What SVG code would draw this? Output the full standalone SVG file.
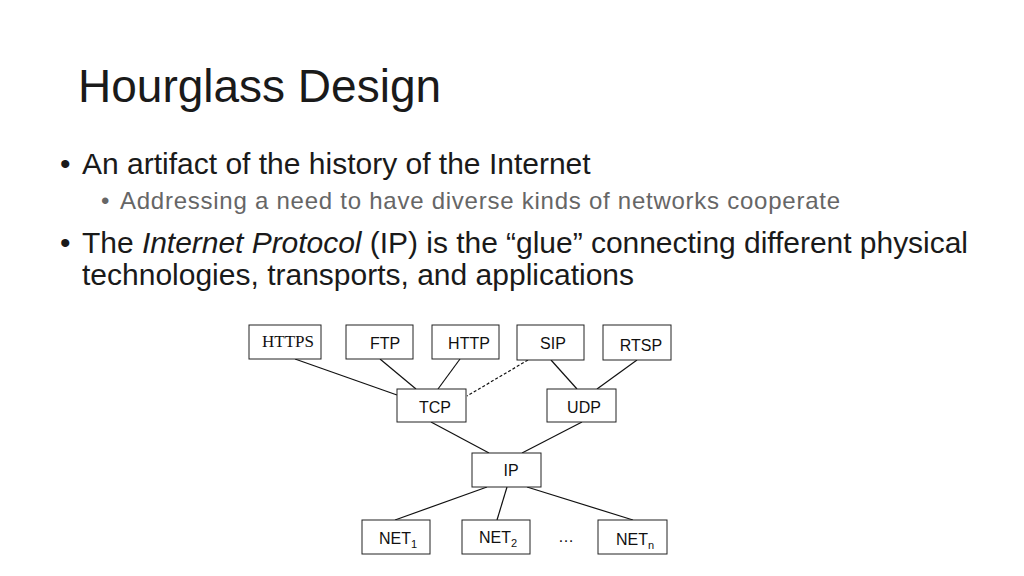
<svg xmlns="http://www.w3.org/2000/svg" width="1024" height="576" viewBox="0 0 1024 576">
<style>
.t{font-family:"Liberation Sans",Arial,sans-serif;fill:#1a1a1a}
.b{fill:#fff;stroke:#222;stroke-width:1}
.l{font-family:"Liberation Sans",Arial,sans-serif;font-size:16px;fill:#111;text-anchor:middle}
.c line{stroke:#111;stroke-width:1.2}
</style>
<rect width="1024" height="576" fill="#fff"/>
<text class="t" x="78" y="102" font-size="46">Hourglass Design</text>
<text class="t" x="60" y="174" font-size="30">•</text>
<text class="t" x="82" y="174" font-size="30">An artifact of the history of the Internet</text>
<text class="t" x="101" y="209" font-size="24" style="fill:#666">•</text>
<text class="t" x="120" y="209" font-size="24" style="fill:#666" textLength="720">Addressing a need to have diverse kinds of networks cooperate</text>
<text class="t" x="60" y="253" font-size="30">•</text>
<text class="t" x="82" y="253" font-size="30" textLength="886">The <tspan font-style="italic">Internet Protocol</tspan> (IP) is the “glue” connecting different physical</text>
<text class="t" x="82" y="285" font-size="30">technologies, transports, and applications</text>
<g class="c">
<line x1="295" y1="359" x2="397" y2="395"/>
<line x1="380" y1="359" x2="416" y2="389"/>
<line x1="460" y1="359" x2="438" y2="389"/>
<line x1="528" y1="360" x2="467" y2="396" stroke-dasharray="3,2"/>
<line x1="551" y1="360" x2="577" y2="389"/>
<line x1="637" y1="360" x2="597" y2="389"/>
<line x1="431" y1="422" x2="489" y2="453"/>
<line x1="582" y1="422" x2="522" y2="453"/>
<line x1="487" y1="487" x2="395" y2="520"/>
<line x1="507" y1="487" x2="497" y2="520"/>
<line x1="527" y1="487" x2="633" y2="520"/>
</g>
<g id="https"><rect class="b" x="249" y="325" width="72" height="34"/><text x="288" y="347" font-family="Liberation Serif,serif" font-size="17" text-anchor="middle" fill="#111">HTTPS</text></g>
<g id="ftp"><rect class="b" x="346" y="325" width="67" height="34"/><text class="l" x="385" y="349">FTP</text></g>
<g id="http"><rect class="b" x="432" y="325" width="67" height="34"/><text class="l" x="469" y="349">HTTP</text></g>
<g id="sip"><rect class="b" x="517" y="325" width="67" height="35"/><text class="l" x="553" y="349">SIP</text></g>
<g id="rtsp"><rect class="b" x="603" y="325" width="68" height="35"/><text class="l" x="641" y="351">RTSP</text></g>
<g id="tcp"><rect class="b" x="397" y="389" width="69" height="33"/><text class="l" x="435" y="413">TCP</text></g>
<g id="udp"><rect class="b" x="547" y="389" width="69" height="33"/><text class="l" x="584" y="413">UDP</text></g>
<g id="ip"><rect class="b" x="472" y="453" width="69" height="34"/><text class="l" x="511" y="476">IP</text></g>
<g id="net1"><rect class="b" x="362" y="520" width="68" height="34"/><text class="l" x="398" y="544">NET<tspan font-size="11" dy="4">1</tspan></text></g>
<g id="net2"><rect class="b" x="462" y="520" width="68" height="34"/><text class="l" x="498" y="543">NET<tspan font-size="11" dy="4">2</tspan></text></g>
<g id="netn"><rect class="b" x="598" y="520" width="69" height="34"/><text class="l" x="635" y="545">NET<tspan font-size="11" dy="4">n</tspan></text></g>
<text class="l" x="566" y="542" font-size="20">…</text>
</svg>
